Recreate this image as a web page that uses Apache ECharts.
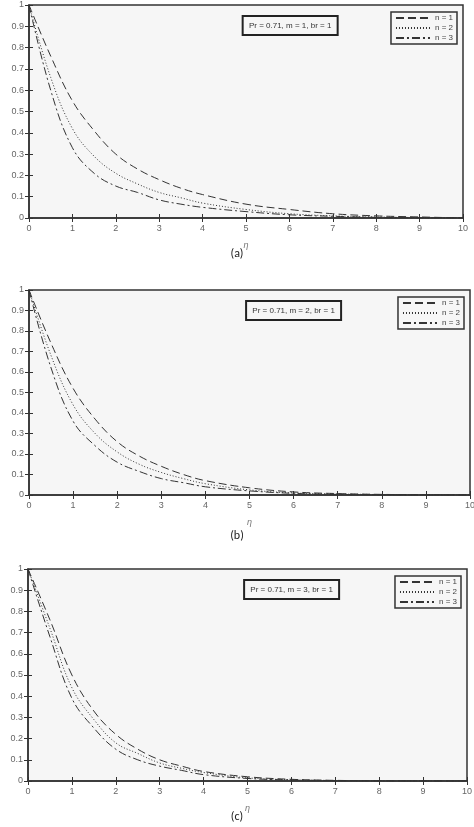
<!DOCTYPE html><html><head><meta charset="utf-8"><script src="https://cdn.jsdelivr.net/npm/echarts@6/dist/echarts.min.js"></script>
<style>html,body{margin:0;background:#fff}#c{width:474px;height:827px}</style></head><body><div id="c"></div><script>
const eta=[0,0.5,1,1.5,2,2.5,3,3.5,4,5,6,7,8,9,10];
const a1=[1,0.76,0.55,0.41,0.30,0.23,0.18,0.14,0.11,0.065,0.04,0.02,0.01,0.005,0];
const a2=[1,0.66,0.42,0.29,0.21,0.16,0.12,0.095,0.07,0.04,0.02,0.01,0.005,0.002,0];
const a3=[1,0.60,0.33,0.21,0.15,0.12,0.085,0.065,0.05,0.03,0.015,0.008,0.003,0.001,0];
const b1=[1,0.74,0.52,0.37,0.26,0.19,0.14,0.10,0.07,0.035,0.015,0.007,0.003,0.001,0];
const b2=[1,0.68,0.44,0.30,0.21,0.15,0.11,0.08,0.055,0.025,0.01,0.005,0.002,0,0];
const b3=[1,0.62,0.36,0.24,0.16,0.115,0.08,0.06,0.04,0.02,0.008,0.003,0.001,0,0];
const c1=[1,0.76,0.50,0.33,0.22,0.15,0.10,0.07,0.045,0.02,0.008,0.003,0.001,0,0];
const c2=[1,0.72,0.44,0.29,0.18,0.13,0.085,0.06,0.04,0.015,0.006,0.002,0,0,0];
const c3=[1,0.68,0.39,0.25,0.15,0.10,0.07,0.05,0.03,0.012,0.005,0.002,0,0,0];
const labels=['Pr = 0.71, m = 1, br = 1','Pr = 0.71, m = 2, br = 1','Pr = 0.71, m = 3, br = 1'];
const panels=['(a)','(b)','(c)'];
const names=['n = 1','n = 2','n = 3'];
const G=[{left:29,top:5,width:434,height:213},{left:29,top:290,width:441,height:205},{left:28,top:569,width:439,height:212}];
const D=[[a1,a2,a3],[b1,b2,b3],[c1,c2,c3]];
const styles=[{type:[8,4],width:1},{type:[1,2],width:1},{type:[8,3,2,3],width:1}];
const lab={color:'#666',fontSize:9,fontFamily:'Arial'};
let grid=[],xAxis=[],yAxis=[],series=[],legend=[],graphic=[];
G.forEach((g,i)=>{
 grid.push(Object.assign({show:true,outerBoundsMode:'none',containLabel:false,backgroundColor:'#f6f6f6',borderColor:'#333',borderWidth:1.5},g));
 xAxis.push({type:'value',gridIndex:i,min:0,max:10,interval:1,name:'η',nameLocation:'middle',nameGap:23,nameTextStyle:{color:'#777',fontStyle:'italic',fontSize:9},axisLine:{lineStyle:{color:'#333',width:1.5}},axisTick:{inside:true,length:4,lineStyle:{color:'#333'}},axisLabel:Object.assign({margin:6},lab),splitLine:{show:false}});
 xAxis.push({type:'value',gridIndex:i,position:'top',min:0,max:10,interval:1,axisLine:{show:false},axisTick:{inside:true,length:4,lineStyle:{color:'#333'}},axisLabel:{show:false},splitLine:{show:false}});
 yAxis.push({type:'value',gridIndex:i,min:0,max:1,interval:0.1,name:'θ',nameLocation:'middle',nameGap:20,nameTextStyle:{color:'#777',fontStyle:'italic',fontSize:9},axisLine:{lineStyle:{color:'#333',width:1.5}},axisTick:{inside:true,length:4,lineStyle:{color:'#333'}},axisLabel:Object.assign({margin:5,formatter:v=>String(+v.toFixed(1))},lab),splitLine:{show:false}});
 yAxis.push({type:'value',gridIndex:i,position:'right',min:0,max:1,interval:0.1,axisLine:{show:false},axisTick:{inside:true,length:4,lineStyle:{color:'#333'}},axisLabel:{show:false},splitLine:{show:false}});
 D[i].forEach((d,k)=>series.push({type:'line',name:names[k],xAxisIndex:2*i,yAxisIndex:2*i,smooth:0.4,symbol:'none',data:eta.map((x,j)=>[x,d[j]]),itemStyle:{color:'#333'},lineStyle:Object.assign({color:'#333'},styles[k])}));
 legend.push({right:474-g.left-g.width+6,top:g.top+7,orient:'vertical',data:names,itemWidth:34,itemHeight:8,itemGap:2,itemStyle:{opacity:0},backgroundColor:'#f6f6f6',borderColor:'#333',borderWidth:1.5,padding:[2,4,2,4],textStyle:{color:'#444',fontSize:8,fontFamily:'Arial'},selectedMode:false});
 graphic.push({type:'group',left:g.left+g.width*0.49,top:g.top+10,children:[{type:'rect',shape:{x:0,y:0,width:95,height:19},style:{fill:'#f6f6f6',stroke:'#222',lineWidth:2}},{type:'text',x:47.5,y:10,style:{text:labels[i],fill:'#333',font:'8px Arial',align:'center',verticalAlign:'middle'}}]});
 graphic.push({type:'text',left:'center',top:g.top+g.height+(i==1?35:30),style:{text:panels[i],fill:'#222',font:'12px Calibri, Carlito, Arial'}});
});
const chart=echarts.init(document.getElementById('c'));
chart.setOption({animation:false,grid,xAxis,yAxis,series,graphic,legend});
</script></body></html>
